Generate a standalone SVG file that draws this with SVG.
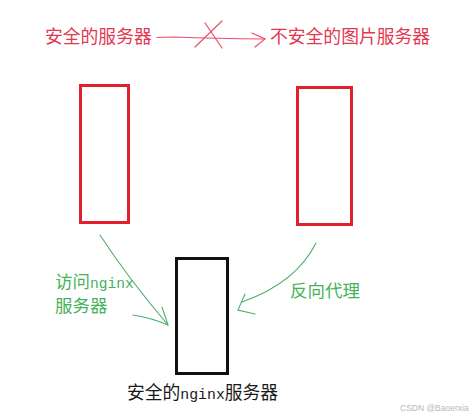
<svg xmlns="http://www.w3.org/2000/svg" width="474" height="416" viewBox="0 0 474 416">
<style>
.red{fill:#e2374f;font-family:"Noto Sans CJK SC",sans-serif;font-size:17.8px}
.green{fill:#46b25a;font-family:"Noto Sans CJK SC",sans-serif;font-size:17.5px}
.black{fill:#1a1a1a;font-family:"Noto Sans CJK SC",sans-serif;font-size:17.8px}
.mono{font-family:"Liberation Mono",monospace}
.box{fill:none;stroke-width:3}
.pl{fill:none;stroke:#e8506a;stroke-width:1.2;stroke-linecap:round}
.gl{fill:none;stroke:#4fae6a;stroke-width:1.1;stroke-linecap:round}
</style>
<rect width="474" height="416" fill="#ffffff"/>
<g id="secure-server">
<rect class="box" x="80.5" y="85.5" width="48" height="137" stroke="#e0202c"/>
<text class="red" x="45" y="43">安全的服务器</text>
</g>
<g id="insecure-image-server">
<rect class="box" x="297.5" y="87.5" width="54" height="137" stroke="#e0202c"/>
<text class="red" x="270" y="43">不安全的图片服务器</text>
</g>
<g id="nginx-server">
<rect class="box" x="176.5" y="258.5" width="51" height="115" stroke="#111111"/>
<text class="black" x="127" y="399">安全的<tspan class="mono" style="font-size:14.8px">nginx</tspan>服务器</text>
</g>
<g id="connectors">
<path class="pl" d="M157 37.5 L175 37 Q215 38.5 265 39"/>
<path class="pl" d="M252 33 L265 39 L255 47"/>
<path class="pl" d="M195 47 L222 21 M205 23 L222 48"/>
<path class="gl" d="M100 235 Q128 278 168 325"/>
<path class="gl" d="M133 315 Q152 318 168 325 M162 307 L168 325"/>
<path class="gl" d="M316 243 Q296 283 242 302"/>
<path class="gl" d="M245 294 L238 310 L255 314"/>
</g>
<g id="labels">
<text class="green" x="55" y="288">访问<tspan class="mono" style="font-size:14.6px">nginx</tspan></text>
<text class="green" x="55" y="312">服务器</text>
<text class="green" x="290" y="297">反向代理</text>
<text x="400" y="411" style="fill:#b8b8b8;font-family:'Liberation Sans',sans-serif;font-size:8.5px">CSDN @Baoerxia</text>
</g>
</svg>
